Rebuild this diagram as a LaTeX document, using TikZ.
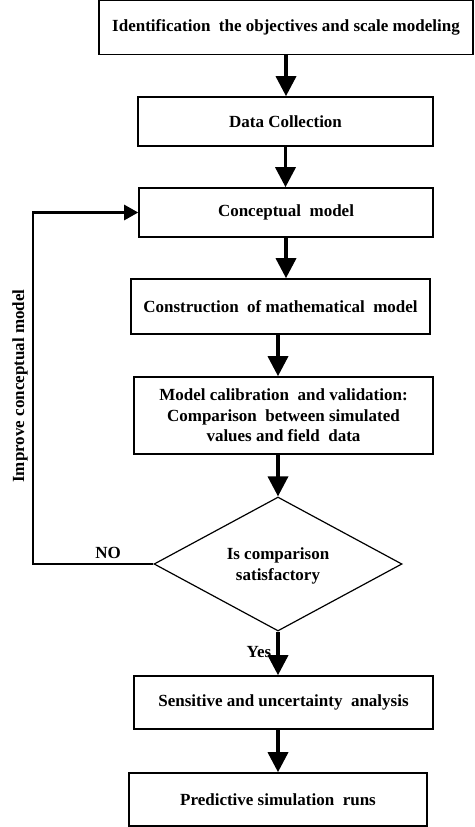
\documentclass[tikz,border=0pt]{standalone}
\usepackage{fontspec}
\setmainfont{Liberation Serif}
\usetikzlibrary{arrows.meta,shapes.geometric,calc}
\begin{document}
\begin{tikzpicture}[x=1pt,y=-1pt,
  every node/.style={font=\bfseries\fontsize{17}{20.5}\selectfont},
  boxnode/.style={draw,line width=1.6pt,rectangle,inner sep=0pt,align=center},
  decision/.style={draw,line width=1.2pt,diamond,inner sep=0pt,align=center},
  flow/.style={line width=3.5pt,-{Triangle[width=20pt,length=20pt]}},
  fb/.style={line width=2.6pt,-{Triangle[width=15pt,length=14pt]}},
  lbl/.style={inner sep=0pt}]
\useasboundingbox (0,0) rectangle (474,827);
\node[boxnode,minimum width=374pt,minimum height=54pt] (b1) at (286,27.5) {Identification\ \ the objectives and scale modeling};
\node[boxnode,minimum width=295pt,minimum height=49pt] (b2) at (285.5,121.5) {Data Collection};
\node[boxnode,minimum width=294pt,minimum height=49pt] (b3) at (286,212.5) {Conceptual\ \ model};
\node[boxnode,minimum width=299pt,minimum height=55pt] (b4) at (280.5,306.5) {Construction\ \ of mathematical\ \ model};
\node[boxnode,minimum width=299pt,minimum height=77pt] (b5) at (283.5,415.5) {Model calibration\ \ and validation:\\Comparison\ \ between simulated\\values and field\ \ data};
\node[decision,minimum width=248pt,minimum height=134pt] (dia) at (278,564) {};
\node[lbl,align=center] (dt) at (278,566) {Is comparison\\satisfactory};
\node[boxnode,minimum width=299pt,minimum height=53pt] (b6) at (283.5,702.5) {Sensitive and uncertainty\ \ analysis};
\node[boxnode,minimum width=298pt,minimum height=53pt] (b7) at (278,799.5) {Predictive simulation\ \ runs};
\coordinate (corner) at (33,564);
\draw[flow] (b1.south) -- (b1.south |- b2.north);
\draw[flow] (b2.south) -- (b2.south |- b3.north);
\draw[flow] (b3.south) -- (b3.south |- b4.north);
\draw[flow] (b4.south -| dia.north) -- (b5.north -| dia.north);
\draw[flow] (b5.south -| dia.north) -- (dia.north);
\draw[flow] (dia.south) -- (b6.north -| dia.south);
\draw[flow] (b6.south -| dia.south) -- (b7.north -| dia.south);
\draw[fb] (dia.west) -- (corner) -- (corner |- b3.west) -- (b3.west);
\node[lbl] (no) at (108,553) {NO};
\node[lbl] (yes) at (259,652) {Yes};
\node[lbl,rotate=90] (imp) at (20,386) {Improve conceptual model};
\end{tikzpicture}
\end{document}
